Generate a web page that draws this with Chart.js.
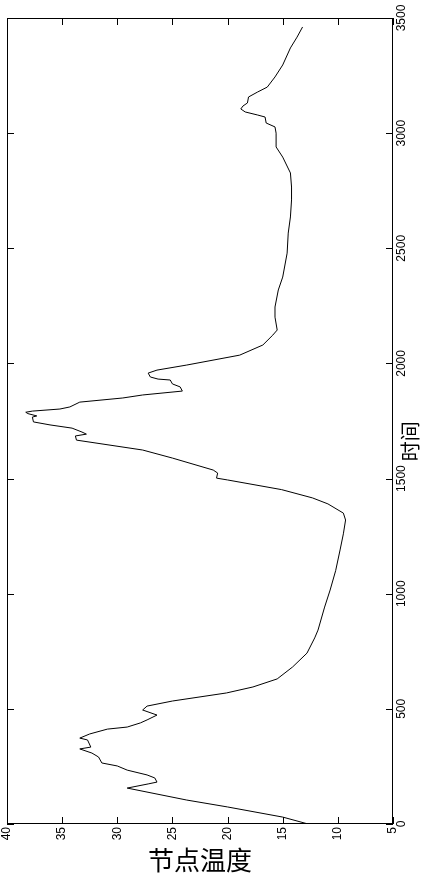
<!DOCTYPE html>
<html>
<head>
<meta charset="utf-8">
<script src="https://cdn.jsdelivr.net/npm/chart.js@4.4.0/dist/chart.umd.min.js"></script>
<style>
html, body { margin: 0; padding: 0; background: #fff; }
#wrap { width: 426px; height: 876px; }
</style>
</head>
<body>
<div id="wrap"><canvas id="c"></canvas></div>
<script>
// 时间 (vertical axis) and 节点温度 (horizontal axis)
const time = [0, 30, 74, 104, 156, 174, 182, 200, 213, 234, 252, 265, 291, 308, 326, 334, 365, 373, 391, 412,
    421, 439, 452, 473, 495, 512, 534, 569, 595, 630, 682, 742, 808, 842, 942, 1016, 1100, 1190, 1260, 1320,
    1350, 1390, 1416, 1452, 1494, 1502, 1524, 1537, 1589, 1624, 1667, 1685, 1693, 1702, 1719, 1733, 1746, 1767, 1772, 1782,
    1788, 1793, 1802, 1811, 1832, 1850, 1863, 1880, 1898, 1911, 1928, 1932, 1941, 1958, 1971, 1993, 2036, 2080, 2123, 2145,
    2201, 2245, 2319, 2375, 2479, 2566, 2636, 2710, 2766, 2827, 2896, 2940, 3000, 3027, 3044, 3070, 3079, 3092, 3105, 3118,
    3131, 3157, 3178, 3200, 3244, 3296, 3370, 3417, 3461];
const temp = [12.7, 15.0, 20.0, 23.7, 29.1, 27.2, 26.4, 26.6, 27.3, 29.1, 30.0, 31.4, 31.7, 32.3, 33.4, 32.4, 32.7, 33.4, 32.5, 30.9,
    29.1, 27.9, 27.3, 26.4, 27.7, 27.3, 25.0, 20.1, 17.7, 15.5, 14.1, 12.8, 12.1, 11.8, 11.2, 10.7, 10.2, 9.8, 9.5, 9.3,
    9.5, 10.9, 12.3, 15.1, 20.0, 21.0, 20.9, 21.3, 25.0, 27.7, 33.7, 33.8, 32.8, 33.2, 34.1, 36.1, 37.6, 37.7, 37.3, 38.1,
    38.3, 37.7, 35.2, 34.3, 33.4, 29.5, 27.7, 24.1, 24.3, 25.0, 25.2, 26.3, 27.0, 27.2, 26.4, 23.7, 18.9, 16.8, 15.9, 15.5,
    15.7, 15.7, 15.4, 15.0, 14.6, 14.5, 14.3, 14.2, 14.2, 14.3, 15.0, 15.6, 15.6, 15.7, 16.5, 16.6, 17.3, 18.4, 18.8, 18.6,
    18.2, 18.1, 17.3, 16.4, 15.7, 15.0, 14.3, 13.7, 13.2];
const tempTicks = [40, 35, 30, 25, 20, 15, 10, 5];
const timeTicks = [0, 500, 1000, 1500, 2000, 2500, 3000, 3500];

const points = time.map((t, i) => ({ x: temp[i], y: t }));

// cadre, graduations vers l'intérieur, étiquettes de l'axe du temps
const frame = {
    id: 'frame',
    afterDatasetsDraw(chart) {
        const { ctx, chartArea: a, scales: { x, y } } = chart;
        ctx.save();
        ctx.strokeStyle = '#000';
        ctx.lineWidth = 1;
        ctx.strokeRect(a.left + 0.5, a.top + 0.5, a.right - a.left - 1, a.bottom - a.top - 1);
        ctx.beginPath();
        x.ticks.forEach(t => {
            const px = Math.round(x.getPixelForValue(t.value)) + 0.5;
            ctx.moveTo(px, a.bottom); ctx.lineTo(px, a.bottom - 7);
            ctx.moveTo(px, a.top); ctx.lineTo(px, a.top + 7);
        });
        y.ticks.forEach(t => {
            const py = Math.round(y.getPixelForValue(t.value)) + 0.5;
            ctx.moveTo(a.left, py); ctx.lineTo(a.left + 7, py);
            ctx.moveTo(a.right, py); ctx.lineTo(a.right - 7, py);
        });
        ctx.stroke();

        ctx.fillStyle = '#000';
        ctx.font = '12px "Liberation Sans"';
        ctx.textAlign = 'center';
        ctx.textBaseline = 'middle';
        y.ticks.forEach(t => {
            ctx.save();
            ctx.translate(a.right + 9, y.getPixelForValue(t.value));
            ctx.rotate(-Math.PI / 2);
            ctx.fillText(String(t.value), 0, 0);
            ctx.restore();
        });

        ctx.font = '20px "Noto Sans CJK SC"';
        ctx.translate(a.right + 17, a.top + (a.bottom - a.top) * 0.525);
        ctx.rotate(-Math.PI / 2);
        ctx.fillText('时间', 0, 0);
        ctx.restore();
    }
};

new Chart(document.getElementById('c'), {
    type: 'scatter',
    data: {
        datasets: [{
            data: points,
            showLine: true,
            borderColor: '#000',
            borderWidth: 1,
            pointRadius: 0,
            tension: 0
        }]
    },
    options: {
        responsive: true,
        maintainAspectRatio: false,
        animation: false,
        layout: { padding: { left: 7, top: 18, right: 0, bottom: 0 } },
        plugins: { legend: { display: false }, tooltip: { enabled: false } },
        scales: {
            x: {
                type: 'linear',
                position: 'bottom',
                min: 5,
                max: 40,
                reverse: true,
                grid: { display: false, drawTicks: false },
                border: { display: false },
                afterBuildTicks: s => { s.ticks = tempTicks.map(v => ({ value: v })); },
                afterFit: s => { s.height = 52; },
                ticks: {
                    minRotation: 90,
                    maxRotation: 90,
                    padding: 3,
                    color: '#000',
                    font: { family: 'Liberation Sans', size: 12 }
                },
                title: {
                    display: true,
                    text: '节点温度',
                    color: '#000',
                    font: { family: 'Noto Sans CJK SC', size: 26 },
                    padding: { top: 0, bottom: 0 }
                }
            },
            y: {
                type: 'linear',
                position: 'right',
                min: 0,
                max: 3500,
                grid: { display: false },
                border: { display: false },
                afterBuildTicks: s => { s.ticks = timeTicks.map(v => ({ value: v })); },
                afterFit: s => { s.width = 33; },
                ticks: { display: false }
            }
        }
    },
    plugins: [frame]
});
</script>
</body>
</html>
